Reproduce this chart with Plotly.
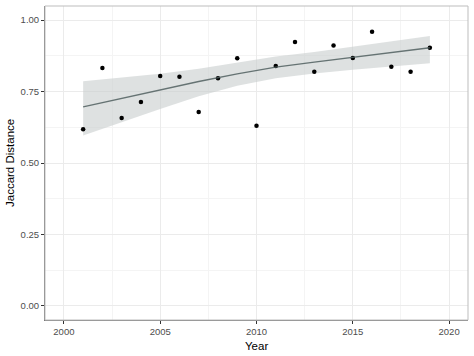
import plotly.graph_objects as go

years = [2001, 2002, 2003, 2004, 2005, 2006, 2007, 2008, 2009, 2010,
         2011, 2012, 2013, 2014, 2015, 2016, 2017, 2018, 2019]
jaccard = [0.618, 0.832, 0.657, 0.713, 0.804, 0.802, 0.678, 0.796, 0.866, 0.630,
           0.839, 0.923, 0.819, 0.911, 0.867, 0.959, 0.837, 0.819, 0.903]

fit_years = [2001, 2003, 2005, 2007, 2009, 2011, 2013, 2015, 2017, 2019]
fit_mean = [0.696, 0.726, 0.756, 0.785, 0.812, 0.835, 0.853, 0.869, 0.886, 0.903]
fit_lower = [0.596, 0.642, 0.689, 0.733, 0.770, 0.796, 0.813, 0.826, 0.838, 0.849]
fit_upper = [0.786, 0.799, 0.812, 0.830, 0.851, 0.872, 0.888, 0.906, 0.925, 0.944]

x_ticks = [2000, 2005, 2010, 2015, 2020]
y_ticks = [0.00, 0.25, 0.50, 0.75, 1.00]

FONT = "Liberation Sans, Arial, sans-serif"

fig = go.Figure()
fig.add_trace(go.Scatter(x=fit_years + fit_years[::-1], y=fit_upper + fit_lower[::-1],
                         fill="toself", fillcolor="rgba(200,205,205,0.6)",
                         line=dict(width=0), mode="lines", hoverinfo="skip",
                         showlegend=False))
fig.add_trace(go.Scatter(x=years, y=jaccard, mode="markers",
                         marker=dict(color="black", size=4.5), showlegend=False))
fig.add_trace(go.Scatter(x=fit_years, y=fit_mean, mode="lines",
                         line=dict(color="rgba(80,95,95,0.85)", width=1.3), showlegend=False))

axis_common = dict(
    showgrid=True, gridcolor="#ebebeb", gridwidth=1,
    zeroline=False, ticks="outside", ticklen=3, tickcolor="#333333",
    tickfont=dict(family=FONT, size=9.5, color="#4d4d4d"),
    showline=True, linecolor="#777777", linewidth=1, mirror=False,
    automargin=False,
)

fig.update_layout(
    width=474, height=356,
    margin=dict(l=45, r=6, t=6, b=36),
    paper_bgcolor="white", plot_bgcolor="white",
    xaxis=dict(range=[1999.02, 2020.98], tickvals=x_ticks,
               ticktext=[str(v) for v in x_ticks], **axis_common),
    yaxis=dict(range=[-0.049, 1.049], tickvals=y_ticks,
               ticktext=[f"{v:.2f}" for v in y_ticks], **axis_common),
    shapes=[dict(type="rect", xref="paper", yref="paper", x0=0, y0=0, x1=1, y1=1,
                 line=dict(color="#bdbdbd", width=1), layer="above")],
    annotations=[
        dict(text="Year", xref="paper", yref="paper", x=0.5, y=0, yshift=-18,
             xanchor="center", yanchor="top", showarrow=False,
             font=dict(family=FONT, size=11.5, color="black")),
        dict(text="Jaccard Distance", xref="paper", yref="paper", x=0, y=0.5, xshift=-35,
             xanchor="center", yanchor="middle", textangle=-90, showarrow=False,
             font=dict(family=FONT, size=11.5, color="black")),
    ],
)
fig.update_xaxes(minor=dict(tickvals=[2002.5, 2007.5, 2012.5, 2017.5], showgrid=True,
                            gridcolor="#f4f4f4", gridwidth=0.5, ticks=""))
fig.update_yaxes(minor=dict(tickvals=[0.125, 0.375, 0.625, 0.875], showgrid=True,
                            gridcolor="#f4f4f4", gridwidth=0.5, ticks=""))

fig.write_html("out.html", config={"displayModeBar": False},
               post_script="document.body.style.margin='0';")
